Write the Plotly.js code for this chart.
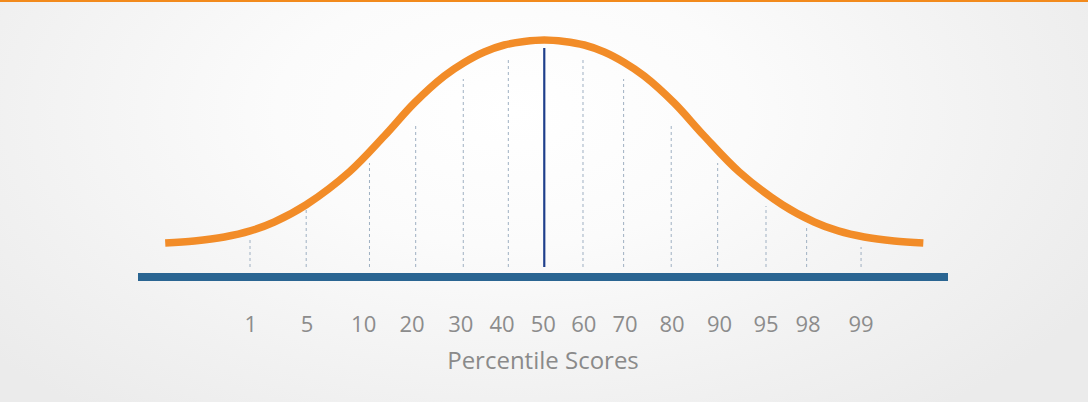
<!DOCTYPE html>
<html>
<head>
<meta charset="utf-8">
<script src="https://cdn.plot.ly/plotly-3.0.1.min.js"></script>
<style>
  html, body { margin: 0; padding: 0; }
  body {
    width: 1088px; height: 402px; overflow: hidden; position: relative;
    background: radial-gradient(ellipse 62% 95% at 47% 28%, #ffffff 0%, #fbfbfb 35%, #f1f1f1 75%, #ebebeb 100%);
  }
  #topbar { position: absolute; left: 0; top: 0; width: 1088px; height: 2px; background: #f28a1c; z-index: 5; }
  #chart { width: 1088px; height: 402px; }
</style>
</head>
<body>
<div id="topbar"></div>
<div id="chart"></div>
<script>
// Bell curve (x in standard-deviation-like units, y in density-like units)
const curveX = [-2.995, -2.765, -2.528, -2.323, -2.133, -1.881, -1.541, -1.264, -1.027, -0.790, -0.632, -0.474, -0.316, -0.158, 0.000,
                0.158, 0.316, 0.474, 0.632, 0.790, 1.027, 1.264, 1.541, 1.881, 2.133, 2.323, 2.528, 2.765, 2.995];
const curveY = [0.0515, 0.0550, 0.0618, 0.0722, 0.0876, 0.1172, 0.1734, 0.2352, 0.2918, 0.3382, 0.3614, 0.3794, 0.3914, 0.3974, 0.4000,
                0.3974, 0.3914, 0.3794, 0.3614, 0.3382, 0.2918, 0.2352, 0.1734, 0.1172, 0.0876, 0.0722, 0.0618, 0.0550, 0.0515];

// Percentile markers
const percentiles = [1, 5, 10, 20, 30, 40, 50, 60, 70, 80, 90, 95, 98, 99];
const markerX     = [-2.325, -1.881, -1.381, -1.016, -0.640, -0.284, 0.000, 0.306, 0.627, 1.003, 1.370, 1.752, 2.073, 2.503];
const markerTop   = [0.0584, 0.1099, 0.1888, 0.2575, 0.3330, 0.3708, 0.3863, 0.3708, 0.3330, 0.2575, 0.1888, 0.1150, 0.0795, 0.0446];
const markerBase  = 0.0103;
const labelX      = [-2.319, -1.875, -1.427, -1.045, -0.660, -0.334, -0.008, 0.312, 0.638, 1.010, 1.385, 1.752, 2.084, 2.503];
const tickText    = percentiles.map(String);
const axisTitle   = "Percentile Scores";

// Build dashed marker lines (all but the median) and the solid median line
const dashX = [], dashY = [], medX = [], medY = [];
percentiles.forEach((p, i) => {
  if (p === 50) {
    medX.push(markerX[i], markerX[i]);
    medY.push(markerBase, markerTop[i]);
  } else {
    dashX.push(markerX[i], markerX[i], null);
    dashY.push(markerBase, markerTop[i], null);
  }
});

const traces = [
  { x: dashX, y: dashY, type: 'scatter', mode: 'lines', connectgaps: false,
    line: { color: '#9fb0c2', width: 1, dash: '3px,3px' }, hoverinfo: 'skip' },
  { x: medX, y: medY, type: 'scatter', mode: 'lines',
    line: { color: '#1f3f8c', width: 2.2 }, hoverinfo: 'skip' },
  { x: curveX, y: curveY, type: 'scatter', mode: 'lines',
    line: { color: '#f28c28', width: 7.5, shape: 'spline', smoothing: 1 }, hoverinfo: 'skip' }
];

const layout = {
  width: 1088, height: 402,
  margin: { l: 138, r: 140, t: 33, b: 129 },
  paper_bgcolor: 'rgba(0,0,0,0)',
  plot_bgcolor: 'rgba(0,0,0,0)',
  showlegend: false,
  font: { family: '"Open Sans", sans-serif', color: '#8c8c8c' },
  xaxis: {
    range: [-3.21, 3.19],
    showgrid: false, zeroline: false,
    showline: true, linecolor: '#2a6592', linewidth: 8,
    ticks: '', tickmode: 'array', tickvals: labelX, ticktext: tickText,
    tickfont: { family: '"Open Sans", sans-serif', size: 22, color: '#8c8c8c' },
    ticklabelstandoff: 25,
    title: { text: axisTitle, font: { family: '"Open Sans", sans-serif', size: 24, color: '#8a8a8a' }, standoff: 18 },
    fixedrange: true
  },
  yaxis: {
    range: [0, 0.412],
    showgrid: false, zeroline: false, showline: false,
    showticklabels: false, ticks: '', fixedrange: true
  }
};

Plotly.newPlot('chart', traces, layout, { staticPlot: true, displayModeBar: false });
</script>
</body>
</html>
